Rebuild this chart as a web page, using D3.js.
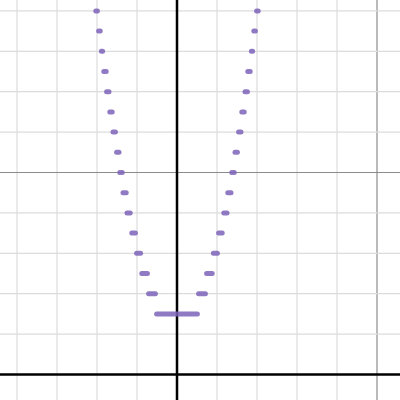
<!DOCTYPE html>
<html>
<head>
<meta charset="utf-8">
<script src="https://cdn.jsdelivr.net/npm/d3@7"></script>
<style>body{margin:0;background:#fff}</style>
</head>
<body>
<svg id="chart" width="400" height="400"></svg>
<script>
// step levels and |x| extents (outer, inner) of each pair of segments
var levels = [9, 8.5, 8, 7.5, 7, 6.5, 6, 5.5, 5, 4.5, 4, 3.5, 3, 2.5, 2, 1.5]
var outerX = [2.03, 1.96, 1.89, 1.83, 1.76, 1.68, 1.60, 1.51, 1.43, 1.35, 1.25, 1.13, 1.01, 0.88, 0.71, 0.51]
var innerX = [1.99, 1.92, 1.86, 1.77, 1.70, 1.62, 1.54, 1.45, 1.37, 1.27, 1.17, 1.04, 0.91, 0.74, 0.54, -0.51]

var W = 400, H = 400
var x = d3.scaleLinear().domain([-4.425, 5.575]).range([0, W])
var y = d3.scaleLinear().domain([-0.631, 9.27]).range([H, 0])
var svg = d3.select("#chart")

var xt = d3.range(-4, 6), yt = d3.range(0, 10)
svg.selectAll(".gx").data(xt).enter().append("line")
  .attr("x1", d => x(d)).attr("x2", d => x(d)).attr("y1", 0).attr("y2", H)
  .attr("stroke", d => d % 5 === 0 && d !== 0 ? "#8c8c8c" : "#dcdcdc").attr("stroke-width", 1.2)
svg.selectAll(".gy").data(yt).enter().append("line")
  .attr("y1", d => y(d)).attr("y2", d => y(d)).attr("x1", 0).attr("x2", W)
  .attr("stroke", d => d % 5 === 0 && d !== 0 ? "#8c8c8c" : "#dcdcdc").attr("stroke-width", 1.2)

svg.append("line").attr("x1", x(0)).attr("x2", x(0)).attr("y1", 0).attr("y2", H)
  .attr("stroke", "#000").attr("stroke-width", 2.5)
svg.append("line").attr("y1", y(0)).attr("y2", y(0)).attr("x1", 0).attr("x2", W)
  .attr("stroke", "#000").attr("stroke-width", 2.5)

var segs = []
levels.forEach(function(l, i) {
  if (innerX[i] < 0) {
    segs.push([innerX[i], outerX[i], l])
  } else {
    segs.push([-outerX[i], -innerX[i], l])
    segs.push([innerX[i], outerX[i], l])
  }
})
svg.selectAll(".seg").data(segs).enter().append("line")
  .attr("x1", d => x(d[0])).attr("x2", d => x(d[1]))
  .attr("y1", d => y(d[2])).attr("y2", d => y(d[2]))
  .attr("stroke", "#7b63b8").attr("stroke-opacity", 0.85)
  .attr("stroke-width", 5).attr("stroke-linecap", "round")
</script>
</body>
</html>
